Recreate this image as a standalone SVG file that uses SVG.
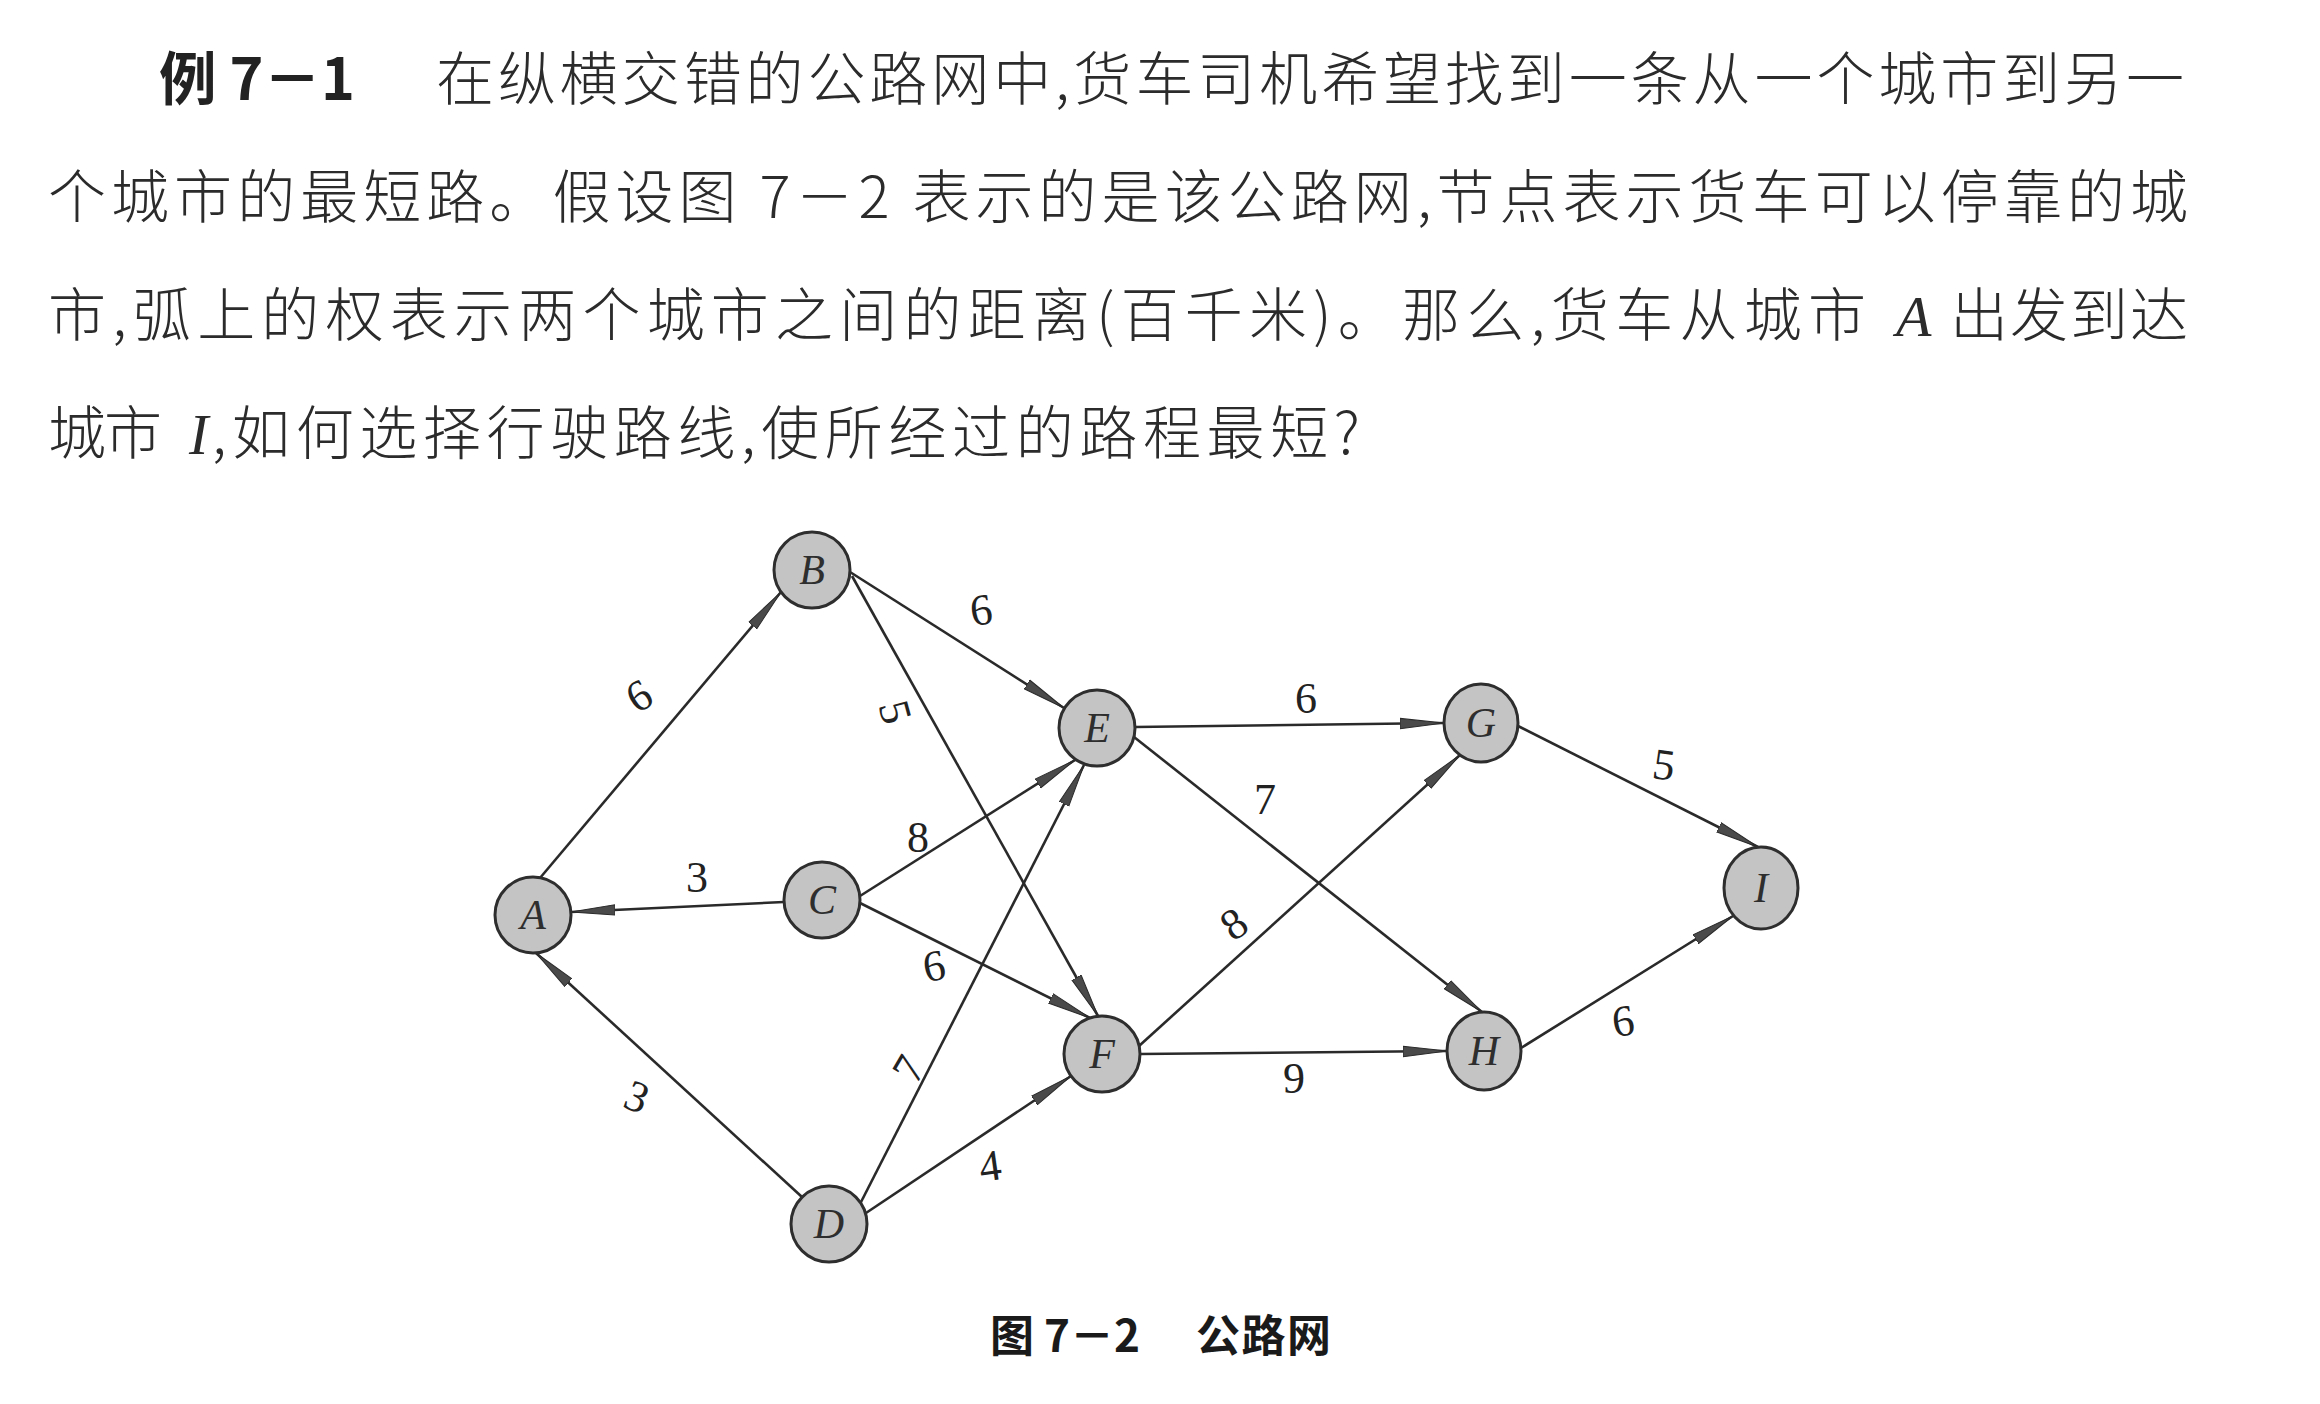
<svg xmlns="http://www.w3.org/2000/svg" width="2320" height="1404" viewBox="0 0 2320 1404">
<style>
.body{font-family:"Noto Sans CJK SC","Noto Sans",sans-serif;font-size:58px;fill:#2b2b2b;font-weight:300}
.bold{font-family:"Noto Sans CJK SC","Noto Sans",sans-serif;font-size:58px;fill:#222;font-weight:700}
.it{font-family:"Liberation Serif",serif;font-style:italic;font-size:58px;fill:#2b2b2b}
.cap{font-family:"Noto Sans CJK SC","Noto Sans",sans-serif;font-size:44px;fill:#1a1a1a;font-weight:700}
.node{fill:#c4c4c4;stroke:#2e2e2e;stroke-width:3}
.nl{font-family:"Liberation Serif",serif;font-style:italic;font-size:42px;fill:#2e2e2e;text-anchor:middle;dominant-baseline:central}
.edge{stroke:#2a2a2a;stroke-width:2.6;fill:none;marker-end:url(#arr)}
.w{font-family:"Liberation Serif",serif;font-size:44px;fill:#222;text-anchor:middle;dominant-baseline:central}
</style>
<defs>
<marker id="arr" markerUnits="userSpaceOnUse" markerWidth="48" markerHeight="14" refX="44" refY="7" orient="auto">
<path d="M0,1.8 L44,7 L0,12.2 Z" fill="#4a4a4a" stroke="#2a2a2a" stroke-width="1"/>
</marker>
</defs>
<rect width="2320" height="1404" fill="#ffffff"/>
<g id="paragraph">
<text class="bold" x="159" y="100" textLength="196" lengthAdjust="spacingAndGlyphs">例 7－1</text>
<text class="body" x="436" y="100" textLength="1748" lengthAdjust="spacing">在纵横交错的公路网中,货车司机希望找到一条从一个城市到另一</text>
<text class="body" x="48" y="218" textLength="2140" lengthAdjust="spacing">个城市的最短路。假设图 7－2 表示的是该公路网,节点表示货车可以停靠的城</text>
<text class="body" x="48" y="336" textLength="1818" lengthAdjust="spacing">市,弧上的权表示两个城市之间的距离(百千米)。那么,货车从城市</text>
<text class="it" x="1896" y="336">A</text>
<text class="body" x="1950" y="336" textLength="238" lengthAdjust="spacing">出发到达</text>
<text class="body" x="48" y="454" textLength="114" lengthAdjust="spacing">城市</text>
<text class="it" x="189" y="454">I</text>
<text class="body" x="212" y="454" textLength="1148" lengthAdjust="spacing">,如何选择行驶路线,使所经过的路程最短?</text>
</g>
<g id="connectors">
<g id="e-AB"><line class="edge" x1="540" y1="878" x2="781" y2="592"/><text class="w" x="639" y="696" transform="rotate(-30 639 696)">6</text></g>
<g id="e-BE"><line class="edge" x1="850" y1="572" x2="1064" y2="708"/><text class="w" x="981" y="610" transform="rotate(-8 981 610)">6</text></g>
<g id="e-BF"><line class="edge" x1="852" y1="576" x2="1098" y2="1016"/><text class="w" x="895" y="712" transform="rotate(75 895 712)">5</text></g>
<g id="e-CA"><line class="edge" x1="784" y1="902" x2="571" y2="912"/><text class="w" x="697" y="877">3</text></g>
<g id="e-CE"><line class="edge" x1="860" y1="896" x2="1075" y2="760"/><text class="w" x="918" y="837">8</text></g>
<g id="e-CF"><line class="edge" x1="860" y1="903" x2="1090" y2="1018"/><text class="w" x="934" y="966" transform="rotate(-10 934 966)">6</text></g>
<g id="e-DA"><line class="edge" x1="802" y1="1197" x2="536" y2="953"/><text class="w" x="637" y="1097" transform="rotate(22 637 1097)">3</text></g>
<g id="e-DE"><line class="edge" x1="860" y1="1204" x2="1084" y2="765"/><text class="w" x="909" y="1069" transform="rotate(-60 909 1069)">7</text></g>
<g id="e-DF"><line class="edge" x1="866" y1="1213" x2="1071" y2="1076"/><text class="w" x="990" y="1166" transform="rotate(-8 990 1166)">4</text></g>
<g id="e-EG"><line class="edge" x1="1135" y1="727" x2="1444" y2="723"/><text class="w" x="1306" y="698">6</text></g>
<g id="e-EH"><line class="edge" x1="1134" y1="737" x2="1482" y2="1012"/><text class="w" x="1265" y="799">7</text></g>
<g id="e-FG"><line class="edge" x1="1139" y1="1046" x2="1460" y2="755"/><text class="w" x="1234" y="924" transform="rotate(-35 1234 924)">8</text></g>
<g id="e-FH"><line class="edge" x1="1140" y1="1054" x2="1447" y2="1051"/><text class="w" x="1294" y="1078">9</text></g>
<g id="e-GI"><line class="edge" x1="1518" y1="726" x2="1758" y2="847"/><text class="w" x="1664" y="765" transform="rotate(8 1664 765)">5</text></g>
<g id="e-HI"><line class="edge" x1="1521" y1="1048" x2="1733" y2="916"/><text class="w" x="1623" y="1021" transform="rotate(-8 1623 1021)">6</text></g>
</g>
<g id="node-A"><circle class="node" cx="533" cy="915" r="38"/><text class="nl" x="533" y="915">A</text></g>
<g id="node-B"><circle class="node" cx="812" cy="570" r="38"/><text class="nl" x="812" y="570">B</text></g>
<g id="node-C"><circle class="node" cx="822" cy="900" r="38"/><text class="nl" x="822" y="900">C</text></g>
<g id="node-D"><circle class="node" cx="829" cy="1224" r="38"/><text class="nl" x="829" y="1224">D</text></g>
<g id="node-E"><circle class="node" cx="1097" cy="728" r="38"/><text class="nl" x="1097" y="728">E</text></g>
<g id="node-F"><circle class="node" cx="1102" cy="1054" r="38"/><text class="nl" x="1102" y="1054">F</text></g>
<g id="node-G"><ellipse class="node" cx="1481" cy="723" rx="37" ry="39"/><text class="nl" x="1481" y="723">G</text></g>
<g id="node-H"><ellipse class="node" cx="1484" cy="1051" rx="37" ry="39"/><text class="nl" x="1484" y="1051">H</text></g>
<g id="node-I"><ellipse class="node" cx="1761" cy="888" rx="37" ry="41"/><text class="nl" x="1761" y="888">I</text></g>
<g id="caption">
<text class="cap" x="990" y="1352" textLength="150" lengthAdjust="spacing">图 7－2</text>
<text class="cap" x="1196" y="1352" textLength="135" lengthAdjust="spacing">公路网</text>
</g>
</svg>
